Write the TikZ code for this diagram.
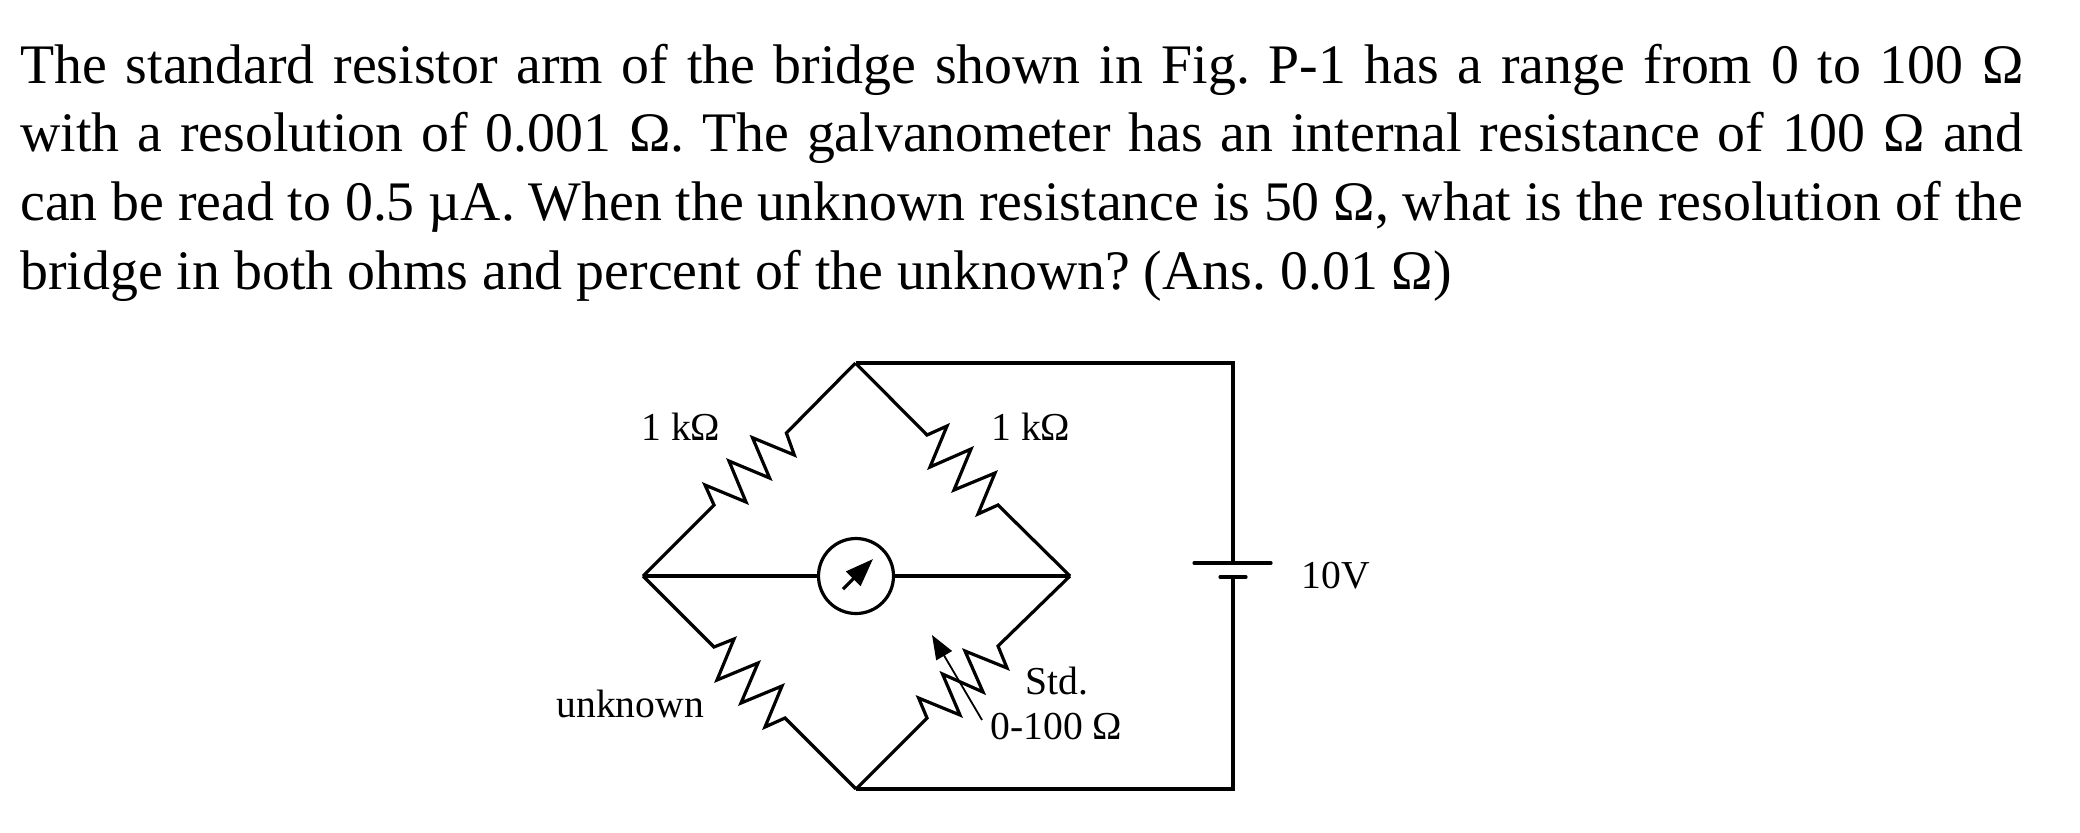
\documentclass[tikz,border=0pt]{standalone}
\usepackage{fontspec}
\setmainfont{Liberation Serif}
\usetikzlibrary{arrows.meta}
\frenchspacing
\tikzset{
  para/.style={anchor=base west,inner sep=0pt,font=\fontsize{27.9}{34}\selectfont},
  lab/.style={anchor=base west,inner sep=0pt,font=\fontsize{19.8}{24}\selectfont},
  wire/.style={line width=1.6pt,line join=miter,black},
  plate/.style={line width=1.6pt,line cap=round},
  gauge/.style={circle,draw,line width=1.6pt,minimum size=37.5pt,inner sep=0pt},
  needle/.style={line width=1.6pt,-{Triangle[length=14pt,width=10pt]}},
  slider/.style={line width=0.9pt,-{Triangle[length=12pt,width=9pt]}}
}
\begin{document}
\begin{tikzpicture}[x=0.5pt,y=-0.5pt]
\useasboundingbox (0,0) rectangle (2080,832);
% question text
\node[para] (l1) at (20,83) {\frenchspacing\hbox to 1001.5pt{The standard resistor arm of the bridge shown in Fig. P-1 has a range from 0 to 100 Ω}};
\node[para] (l2) at (20,151) {\frenchspacing\hbox to 1001.5pt{with a resolution of 0.001 Ω. The galvanometer has an internal resistance of 100 Ω and}};
\node[para] (l3) at (20,220) {\frenchspacing\hbox to 1001.5pt{can be read to 0.5 µA. When the unknown resistance is 50 Ω, what is the resolution of the}};
\node[para] (l4) at (20,289) {\frenchspacing bridge in both ohms and percent of the unknown? (Ans. 0.01 Ω)};
% bridge corners
\coordinate (top) at (855.5,363);
\coordinate (left) at (643,576);
\coordinate (right) at (1070,576);
\coordinate (bottom) at (856,789);
\coordinate (tr) at (1233,363);
\coordinate (br) at (1233,789);
\coordinate (batp) at (1233,563);
\coordinate (batn) at (1233,577);
\coordinate (platea) at (1194,563);
\coordinate (plateb) at (1271,563);
\coordinate (platec) at (1220,577);
\coordinate (plated) at (1246,577);
% galvanometer
\node[gauge] (meter) at (856,576) {};
\coordinate (needlea) at (843,589);
\coordinate (needleb) at (873,559);
\draw[needle] (needlea) -- (needleb);
\draw[wire] (left) -- (meter);
\draw[wire] (meter) -- (right);
% arms
\draw[wire] (top) -- (786.4,433) -- (794.3,455) -- (752.5,437.7) -- (769.6,478) -- (729,461) -- (746,502) -- (705,485) -- (714,505) -- (left);
\draw[wire] (top) -- (927,435) -- (947,426) -- (930,467) -- (971,449) -- (954,490) -- (995,473) -- (978,514) -- (998,505) -- (right);
\draw[wire] (left) -- (714,647) -- (734,639) -- (717,680) -- (758,663) -- (741,703) -- (782,686) -- (765,727) -- (785,718) -- (bottom);
\draw[wire] (right) -- (998,646) -- (1007,668) -- (965,651) -- (983,692) -- (942.5,674) -- (960,715) -- (918.6,698) -- (927,718) -- (bottom);
% variable arrow
\coordinate (slidera) at (982,720);
\coordinate (sliderb) at (932,635);
\draw[slider] (slidera) -- (sliderb);
% supply
\draw[wire] (top) -- (tr) -- (batp);
\draw[wire] (batn) -- (br) -- (bottom);
\draw[plate] (platea) -- (plateb);
\draw[plate] (platec) -- (plated);
% labels
\node[lab] (r1) at (641,440) {1 kΩ};
\node[lab] (r2) at (991,440) {1 kΩ};
\node[lab] (r3) at (556,717) {unknown};
\node[lab] (r4) at (1025,694) {Std.};
\node[lab] (r5) at (990,739) {0-100 Ω};
\node[lab] (v) at (1301,588) {10V};
\end{tikzpicture}
\end{document}
